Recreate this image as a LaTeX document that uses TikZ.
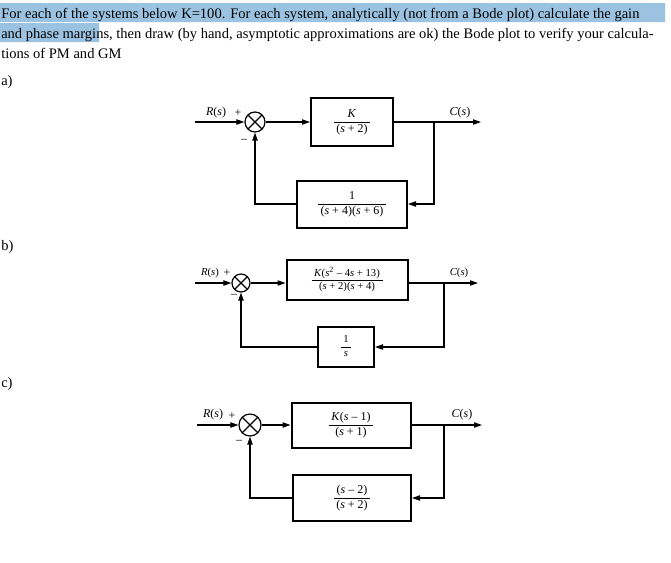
\documentclass[tikz,border=0pt]{standalone}
\usepackage{fontspec}
\setmainfont{Liberation Serif}
\usetikzlibrary{arrows.meta}
\newcommand{\fr}[2]{\renewcommand{\arraystretch}{1.05}\setlength{\tabcolsep}{2pt}\begin{tabular}{c}#1\\\hline #2\end{tabular}}
\newcommand{\iv}[1]{\textit{#1}}
\begin{document}
\begin{tikzpicture}[x=0.75pt,y=-0.75pt,
  txt/.style={anchor=base west,inner sep=0pt,font=\fontsize{10.9}{13}\selectfont},
  blk/.style={draw,line width=1.5pt,inner sep=0pt},
  lbl/.style={inner sep=0pt,font=\fontsize{9}{10}\selectfont},
  sj/.style={draw,circle,line width=0.9pt,minimum size=#1*0.75pt,inner sep=0pt,path picture={\draw[line width=0.9pt](path picture bounding box.north west)--(path picture bounding box.south east)(path picture bounding box.north east)--(path picture bounding box.south west);}},
  sz/.style 2 args={minimum width=#1*0.75pt,minimum height=#2*0.75pt},
  ln/.style={line width=0.8pt},
  ar/.style={ln,-{Triangle[length=6pt,width=4pt]}}]
\useasboundingbox (0,0) rectangle (671,562);
\fill[fill={rgb,255:red,155;green,195;blue,225}] (0,3) rectangle (665,22) (0,23) rectangle (99,42);
\node[txt] (t1) at (1,18) {For each of the systems below K=100. For each system, analytically (not from a Bode plot) calculate the gain};
\node[txt] (t2) at (1,38) {and phase margins, then draw (by hand, asymptotic approximations are ok) the Bode plot to verify your calcula-};
\node[txt] (t3) at (1,58) {tions of PM and GM};
\node[txt] (la) at (1,85) {a)};
\node[txt] (lb) at (1,250) {b)};
\node[txt] (lc) at (1,387) {c)};
% ---- a
\node[sj=20] (sa) at (255,122) {};
\node[blk,sz={82}{48}] (ga) at (352,122) {};
\node[lbl] at (352,122) {\fr{\iv{K}}{(\iv{s} + 2)}};
\node[blk,sz={110}{47}] (ha) at (352,204) {};
\node[lbl] at (352,204) {\fr{1}{(\iv{s} + 4)(\iv{s} + 6)}};
\coordinate (ia) at (195,122); \coordinate (oa) at (481,122);
\coordinate (ba) at (434,122);
\draw[ar] (ia) -- (sa);
\draw[ar] (sa) -- (ga);
\draw[ar] (ga) -- (oa);
\draw[ar] (ba) |- (ha);
\draw[ar] (ha) -| (sa);
\node[lbl] at (216,113) {\iv{R}(\iv{s})}; \node[lbl] at (238,113) {+};
\node[lbl] at (244,141) {–}; \node[lbl] at (460,113) {\iv{C}(\iv{s})};
% ---- b
\node[sj=18] (sb) at (241,283) {};
\node[blk,sz={121}{40}] (gb) at (347,280) {};
\node[lbl,font=\fontsize{8}{9}\selectfont] at (347,280) {\fr{\iv{K}(\iv{s}\textsuperscript{2} – 4\iv{s} + 13)}{(\iv{s} + 2)(\iv{s} + 4)}};
\node[blk,sz={56}{40}] (hb) at (346,347) {};
\node[lbl,font=\fontsize{8}{9}\selectfont] at (346,347) {\fr{1}{\iv{s}}};
\coordinate (ib) at (195,283); \coordinate (ob) at (478,283);
\coordinate (bb) at (444,283);
\draw[ar] (ib) -- (sb);
\draw[ar] (sb) -- (sb -| gb.west);
\draw[ar] (gb.east |- sb) -- (ob);
\draw[ar] (bb) |- (hb);
\draw[ar] (hb) -| (sb);
\node[lbl,font=\fontsize{8}{9}\selectfont] at (210,273) {\iv{R}(\iv{s})}; \node[lbl] at (227,273) {+};
\node[lbl] at (234,296) {–}; \node[lbl,font=\fontsize{8}{9}\selectfont] at (459,273) {\iv{C}(\iv{s})};
% ---- c
\node[sj=22] (sc) at (250,425) {};
\node[blk,sz={119}{45}] (gc) at (351,425) {};
\node[lbl] at (351,425) {\fr{\iv{K}(\iv{s} – 1)}{(\iv{s} + 1)}};
\node[blk,sz={118}{46}] (hc) at (352,498) {};
\node[lbl] at (352,498) {\fr{(\iv{s} – 2)}{(\iv{s} + 2)}};
\coordinate (ic) at (197,425); \coordinate (oc) at (482,425);
\coordinate (bc) at (444,425);
\draw[ar] (ic) -- (sc);
\draw[ar] (sc) -- (gc);
\draw[ar] (gc) -- (oc);
\draw[ar] (bc) |- (hc);
\draw[ar] (hc) -| (sc);
\node[lbl] at (213,415) {\iv{R}(\iv{s})}; \node[lbl] at (232,416) {+};
\node[lbl] at (239,442) {–}; \node[lbl] at (462,415) {\iv{C}(\iv{s})};
\end{tikzpicture}
\end{document}
